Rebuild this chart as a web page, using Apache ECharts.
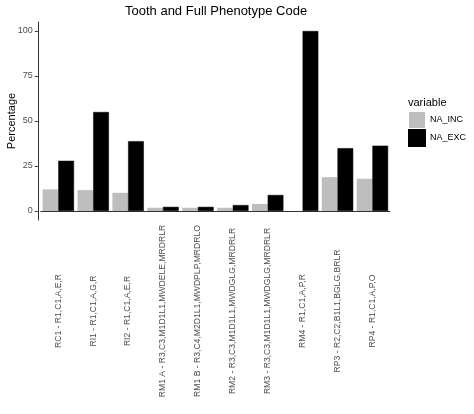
<!DOCTYPE html>
<html>
<head>
<meta charset="utf-8">
<script src="https://cdn.jsdelivr.net/npm/echarts@6/dist/echarts.min.js"></script>
<style>
  html, body { margin: 0; padding: 0; background: #fff; }
  #chart { width: 474px; height: 414px; }
</style>
</head>
<body>
<div id="chart"></div>
<script>
// categories on the x axis
var categories = [
  'RC1 - R1,C1,A,E,R',
  'RI1 - R1,C1,A,G,R',
  'RI2 - R1,C1,A,E,R',
  'RM1 A - R3,C3,M1D1L1,MWDELE,MRDRLR',
  'RM1 B - R3,C4,M2D1L1,MWDPLP,MRDRLO',
  'RM2 - R3,C3,M1D1L1,MWDGLG,MRDRLR',
  'RM3 - R3,C3,M1D1L1,MWDGLG,MRDRLR',
  'RM4 - R1,C1,A,P,R',
  'RP3 - R2,C2,B1L1,BGLG,BRLR',
  'RP4 - R1,C1,A,P,O'
];
// series values
var naInc = [12.0, 11.6, 10.1, 1.8, 1.8, 1.8, 3.9, 0, 18.8, 17.9];
var naExc = [27.9, 55.0, 38.8, 2.3, 2.3, 3.3, 8.9, 100, 34.9, 36.3];
var yTicks = [0, 25, 50, 75, 100];

var chart = echarts.init(document.getElementById('chart'));
var font = 'Liberation Sans, Arial, sans-serif';

var option = {
  animation: false,
  backgroundColor: '#fff',
  title: [{
    text: 'Tooth and Full Phenotype Code',
    left: 125,
    top: 5,
    padding: 0,
    textStyle: { fontFamily: font, fontSize: 13, fontWeight: 'normal', color: '#000' }
  }, {
    text: 'variable',
    left: 408,
    top: 97,
    padding: 0,
    textStyle: { fontFamily: font, fontSize: 11, fontWeight: 'normal', color: '#000' }
  }],
  legend: {
    orient: 'vertical',
    left: 408,
    top: 112,
    itemWidth: 16,
    itemHeight: 16,
    itemGap: 1,
    padding: 0,
    icon: 'rect',
    data: ['NA_INC', 'NA_EXC'],
    textStyle: { fontFamily: font, fontSize: 9, color: '#000' }
  },
  grid: {
    left: 40.85, right: 84.15, top: 22, bottom: 194,
    containLabel: false,
    outerBoundsMode: 'none'
  },
  xAxis: {
    type: 'category',
    data: categories,
    axisLine: { lineStyle: { color: '#333', width: 1 } },
    axisTick: { alignWithLabel: true, length: 3, lineStyle: { color: '#333' } },
    axisLabel: {
      rotate: 90,
      interval: 0,
      align: 'center',
      margin: 91,
      fontFamily: font,
      fontSize: 8.6,
      color: '#4d4d4d'
    }
  },
  yAxis: {
    type: 'value',
    min: -5,
    max: 105,
    offset: 3,
    name: 'Percentage',
    nameLocation: 'middle',
    nameGap: 20,
    nameMoveOverlap: false,
    nameTextStyle: { fontFamily: font, fontSize: 11, color: '#000' },
    splitLine: { show: false },
    axisLine: { show: true, lineStyle: { color: '#333', width: 1 } },
    axisTick: { show: true, length: 3, customValues: yTicks, lineStyle: { color: '#333' } },
    axisLabel: {
      customValues: yTicks,
      margin: 5,
      fontFamily: font,
      fontSize: 9,
      color: '#4d4d4d'
    }
  },
  series: [{
    name: 'NA_INC',
    type: 'bar',
    data: naInc,
    barWidth: '45%',
    barGap: '0%',
    itemStyle: { color: '#bebebe' }
  }, {
    name: 'NA_EXC',
    type: 'bar',
    data: naExc,
    barWidth: '45%',
    barGap: '0%',
    itemStyle: { color: '#000', borderColor: '#000', borderWidth: 0.5 }
  }]
};

chart.setOption(option);
</script>
</body>
</html>
